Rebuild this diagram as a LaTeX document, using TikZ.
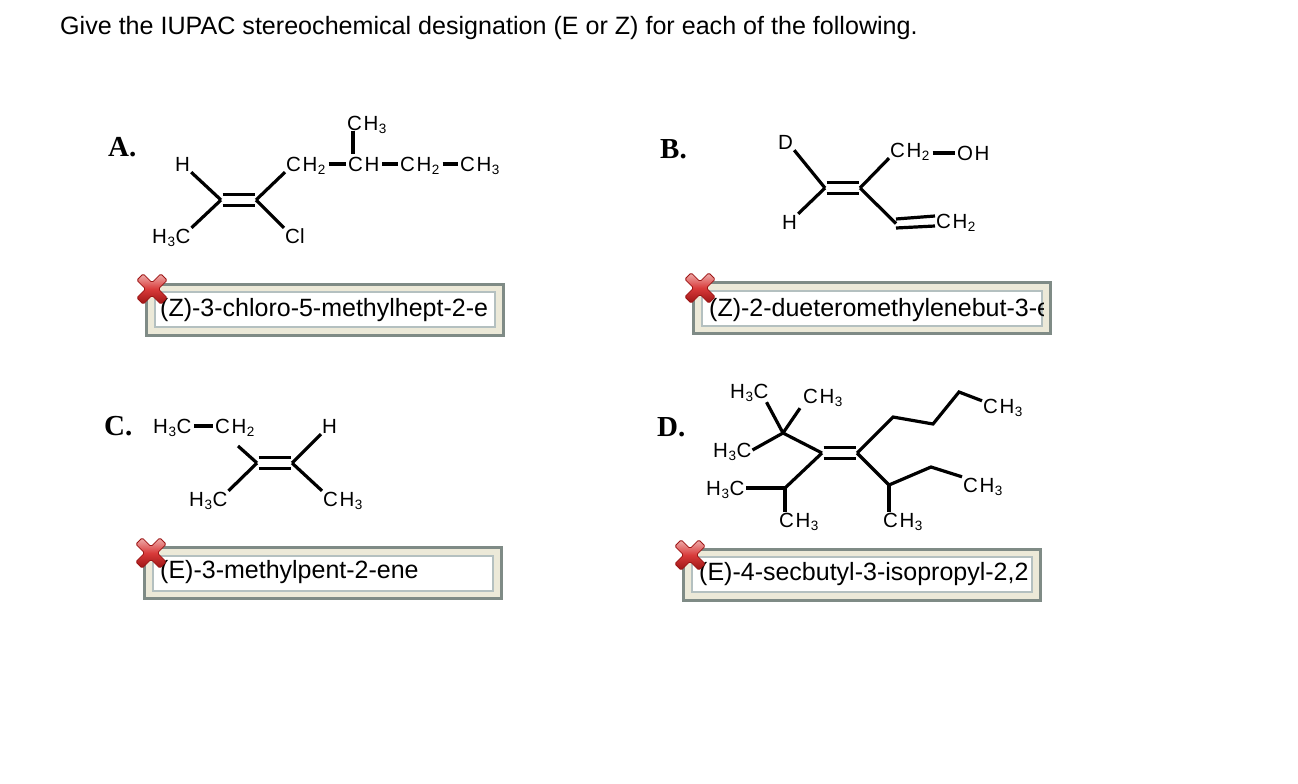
\documentclass[tikz,border=0pt]{standalone}
\usepackage{fontspec}
\setmainfont{Liberation Sans}
\newfontfamily\letterfont{Liberation Serif}
\definecolor{boxedge}{HTML}{7F8B86}
\definecolor{boxband}{HTML}{ECE9D8}
\definecolor{boxline}{HTML}{B4C0C0}
\definecolor{xdark}{HTML}{9C1414}
\definecolor{xred}{HTML}{D93A3A}
\definecolor{xlight}{HTML}{EFB0AE}
\newcommand{\subnum}[1]{\kern0.5pt\raisebox{-3.5pt}{\fontsize{13.5}{13.5}\selectfont #1}\kern0.5pt}
\newcommand{\methyl}{C\kern1.5pt H\subnum{3}}
\newcommand{\methylene}{C\kern1.5pt H\subnum{2}}
\newcommand{\leftmethyl}{H\subnum{3}C}
\tikzset{
  bond/.style={line width=3.2pt},
  dbond/.style={line width=3pt, shorten <=1.5pt, shorten >=1.5pt},
  link/.style={line width=3.2pt, shorten <=1.5pt, shorten >=1pt},
  atom/.style={anchor=base west, inner sep=1pt, text height=14pt, text depth=0pt,
    font=\fontsize{20.5}{21}\selectfont},
  tag/.style={anchor=base west, inner sep=0pt, font=\fontsize{29}{31}\selectfont\letterfont\bfseries},
  answer/.style={anchor=base west, inner sep=0pt, font=\fontsize{25}{27}\selectfont},
  boxouter/.style={draw=boxedge, line width=3pt, fill=boxband, minimum width=357pt, minimum height=51pt, inner sep=0pt},
  boxinner/.style={draw=boxline, line width=2pt, fill=white, minimum width=340pt, minimum height=35pt, inner sep=0pt},
}
\newcommand{\dblbond}[2]{
  \draw[dbond] ([yshift=-5.5pt]#1) -- ([yshift=-5.5pt]#2);
  \draw[dbond] ([yshift=5.5pt]#1) -- ([yshift=5.5pt]#2);
}
% name, box centre, x and baseline of the text, text
\newcommand{\ansbox}[5]{
  \node[boxouter] (#1) at (#2,#3) {};
  \node[boxinner] (#1i) at (#1) {};
  \begin{scope}
    \clip (#1i.south west) rectangle (#1i.north east);
    \node[answer] (#1t) at (#4) {#5};
  \end{scope}
}
\newcommand{\wrongmark}[2]{
  \begin{scope}[shift={(#1,#2)}, rotate=45]
    \path[top color=xlight, bottom color=xdark, middle color=xred, draw=xdark, line width=0.8pt, rounded corners=1.5pt]
      (-4.5,-17)--(4.5,-17)--(4.5,-4.5)--(17,-4.5)--(17,4.5)--(4.5,4.5)--(4.5,17)--(-4.5,17)--(-4.5,4.5)--(-17,4.5)--(-17,-4.5)--(-4.5,-4.5)--cycle;
  \end{scope}
}
\begin{document}
\begin{tikzpicture}[x=1pt, y=-1pt]
\fill[white] (0,0) rectangle (1298,784);
\useasboundingbox (0,0) rectangle (1298,784);
\node[anchor=base west, inner sep=0pt, font=\fontsize{25.1}{27}\selectfont] (title) at (60,35)
  {Give the IUPAC stereochemical designation (E or Z) for each of the following.};

% A
\node[tag] (taga) at (108,156) {A.};
\node[atom] (ah) at (174,171) {H};
\node[atom] (ame) at (151,243) {\leftmethyl};
\node[atom] (acl) at (284,243) {Cl};
\node[atom] (ac1) at (285,171) {\methylene};
\node[atom] (ac2) at (347,171) {C\kern1.5pt H};
\node[atom] (ac3) at (399,171) {\methylene};
\node[atom] (ac4) at (459,171) {\methyl};
\node[atom] (ac5) at (346,130) {\methyl};
\coordinate (av1) at (221,200);
\coordinate (av2) at (256,200);
\dblbond{av1}{av2}
\draw[bond] (ah.south east) -- (av1);
\draw[bond] (ame.north east) -- (av1);
\draw[bond] (ac1.south west) -- (av2);
\draw[bond] (acl.north west) -- (av2);
\draw[link] (ac1.east) -- (ac2.west);
\draw[link] (ac2.east) -- (ac3.west);
\draw[link] (ac3.east) -- (ac4.west);
\draw[bond, shorten >=2pt] ([xshift=7pt]ac5.south west) -- ([xshift=6pt]ac2.north west);
\ansbox{boxa}{324.5}{309.5}{160,316}{(Z)-3-chloro-5-methylhept-2-e}
\wrongmark{152}{289}

% B
\node[tag] (tagb) at (660,158) {B.};
\node[atom] (bd) at (777,149) {D};
\node[atom] (bh) at (781,229) {H};
\node[atom] (bc1) at (889,157) {\methylene};
\node[atom] (boh) at (956,160) {O\kern1.5pt H};
\node[atom] (bc2) at (935,228) {\methylene};
\coordinate (bv1) at (825,188);
\coordinate (bv2) at (860,188);
\coordinate (bv3) at (896,223.5);
\dblbond{bv1}{bv2}
\draw[bond] (bd.south east) -- (bv1);
\draw[bond] (bh.north east) -- (bv1);
\draw[bond] (bc1.south west) -- (bv2);
\draw[bond] (bv2) -- (bv3);
\draw[link] ([yshift=-3pt]bc1.east) -- (boh.west);
\draw[bond] ([yshift=-4.5pt]bv3) -- ([yshift=-5pt]bc2.west);
\draw[bond] ([yshift=4.5pt]bv3) -- ([yshift=5pt]bc2.west);
\ansbox{boxb}{872}{308}{709,316}{(Z)-2-dueteromethylenebut-3-e}
\wrongmark{700}{288}

% C
\node[tag] (tagc) at (104,435) {C.};
\node[atom] (cc1) at (152,433) {\leftmethyl};
\node[atom] (cc2) at (214,433) {\methylene};
\node[atom] (ch) at (321,433) {H};
\node[atom] (cme1) at (188,506) {\leftmethyl};
\node[atom] (cme2) at (322,506) {\methyl};
\coordinate (cv1) at (257,463);
\coordinate (cv2) at (292,463);
\coordinate (cv0) at (238,446);
\dblbond{cv1}{cv2}
\draw[link] (cc1.east) -- (cc2.west);
\draw[bond] (cv0) -- (cv1);
\draw[bond] (cme1.north east) -- (cv1);
\draw[bond] (ch.south west) -- (cv2);
\draw[bond] (cme2.north west) -- (cv2);
\ansbox{boxc}{322.5}{573}{160,578}{(E)-3-methylpent-2-ene}
\wrongmark{151}{553}

% D
\node[tag] (tagd) at (657,436) {D.};
\node[atom] (dm1) at (729,398) {\leftmethyl};
\node[atom] (dm2) at (802,403) {\methyl};
\node[atom] (dm3) at (712,457) {\leftmethyl};
\node[atom] (dm4) at (705,495) {\leftmethyl};
\node[atom] (dm5) at (778,527) {\methyl};
\node[atom] (dm6) at (882,527) {\methyl};
\node[atom] (dm7) at (962,492) {\methyl};
\node[atom] (dm8) at (982,413) {\methyl};
\coordinate (dv1) at (822,453);
\coordinate (dv2) at (857,453);
\coordinate (dq) at (783,433);
\coordinate (dp) at (785,488);
\coordinate (ds) at (889,485);
\coordinate (dr1) at (893,417);
\coordinate (dr2) at (933,424);
\coordinate (dr3) at (959,392);
\coordinate (dr4) at (931,467);
\dblbond{dv1}{dv2}
\draw[bond] ([xshift=-3pt,yshift=-3pt]dm1.south east) -- (dq);
\draw[bond] ([xshift=-2pt,yshift=-4pt]dm2.south west) -- (dq);
\draw[bond] (dm3.east) -- (dq);
\draw[bond] (dq) -- (dv1);
\draw[bond] (dv1) -- (dp);
\draw[bond] (dp) -- (dm4.east);
\draw[bond] (dp) -- ([xshift=7pt]dm5.north west);
\draw[bond] (dv2) -- (ds);
\draw[bond] (ds) -- ([xshift=7pt]dm6.north west);
\draw[bond] (ds) -- (dr4) -- (dm7.north west);
\draw[bond] (dv2) -- (dr1) -- (dr2) -- (dr3) -- ([yshift=-3pt]dm8.north west);
\ansbox{boxd}{862}{574.5}{699,580}{(E)-4-secbutyl-3-isopropyl-2,2}
\wrongmark{690}{555}
\end{tikzpicture}
\end{document}
